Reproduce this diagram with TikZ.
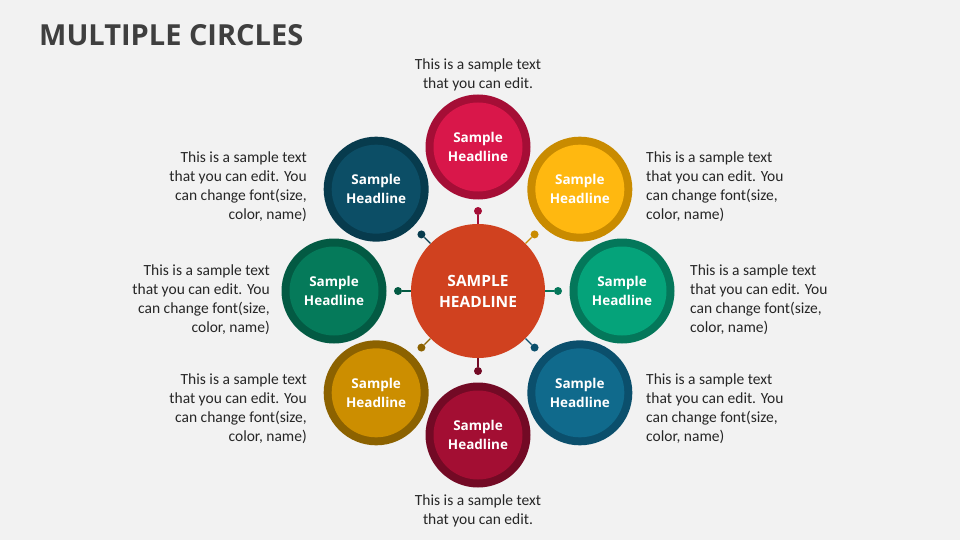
\documentclass[tikz,border=0pt]{standalone}
\usepackage{fontspec}
\setmainfont{Carlito}
\newfontfamily\hfont{Open Sans}
\definecolor{bg}{HTML}{F2F2F2}
\definecolor{ttl}{HTML}{3F3F3F}
\definecolor{txt}{HTML}{262626}
\definecolor{cA}{HTML}{D9174A}\definecolor{rA}{HTML}{A50E36}
\definecolor{cB}{HTML}{FFB810}\definecolor{rB}{HTML}{C98B00}
\definecolor{cC}{HTML}{05A37A}\definecolor{rC}{HTML}{04775A}
\definecolor{cD}{HTML}{106A8C}\definecolor{rD}{HTML}{0B4F6C}
\definecolor{cE}{HTML}{A30E33}\definecolor{rE}{HTML}{730A25}
\definecolor{cF}{HTML}{CC8E00}\definecolor{rF}{HTML}{8C6200}
\definecolor{cG}{HTML}{057A5A}\definecolor{rG}{HTML}{035A43}
\definecolor{cH}{HTML}{0C4E66}\definecolor{rH}{HTML}{073B4D}
\definecolor{cM}{HTML}{D0411F}
\tikzset{
 ring/.style={circle,minimum size=105pt,inner sep=0pt},
 inner/.style={circle,minimum size=89pt,inner sep=0pt,text=white,font=\hfont\bfseries\fontsize{13.5}{18.5}\selectfont,align=center},
 dotn/.style={circle,minimum size=8pt,inner sep=0pt},
 body/.style={text=txt,font=\fontsize{15.5}{19}\selectfont,inner sep=0pt},
}
\begin{document}
\begin{tikzpicture}[x=1pt,y=-1pt]
\fill[bg] (0,0) rectangle (960,540);
\useasboundingbox (0,0) rectangle (960,540);
\node[anchor=west,text=ttl,font=\hfont\bfseries\fontsize{29}{32}\selectfont,inner sep=0pt] (title) at (39,35) {MULTIPLE CIRCLES};
\node[circle,minimum size=134pt,inner sep=0pt,fill=cM,text=white,font=\hfont\bfseries\fontsize{15.5}{21}\selectfont,align=center] (m) at (478,291) {SAMPLE\\HEADLINE};
\foreach \n/\a/\c in {A/90/A,B/45/B,C/0/C,D/-45/D,E/-90/E,F/-135/F,G/180/G,H/135/H}{
  \path (478,291) ++(\a:144 and -144) coordinate (p\n);
  \node[ring,fill=r\c] (r\n) at (p\n) {};
  \node[inner,fill=c\c] (i\n) at (p\n) {Sample\\Headline};
  \path (478,291) ++(\a:80 and -80) coordinate (q\n);
  \node[dotn,fill=r\c] (d\n) at (q\n) {};
  \draw[r\c,line width=1.3pt] (d\n) -- (m);
}
\node[body,align=center,anchor=south] (tA) at (478,91) {This is a sample text\\that you can edit.};
\node[body,align=center,anchor=north] (tE) at (478,495) {This is a sample text\\that you can edit.};
\node[body,align=right,anchor=east] (tH) at (307,187) {This is a sample text\\that you can edit. You\\can change font(size,\\color, name)};
\node[body,align=right,anchor=east] (tG) at (270,300) {This is a sample text\\that you can edit. You\\can change font(size,\\color, name)};
\node[body,align=right,anchor=east] (tF) at (307,409) {This is a sample text\\that you can edit. You\\can change font(size,\\color, name)};
\node[body,align=left,anchor=west] (tB) at (646,187) {This is a sample text\\that you can edit. You\\can change font(size,\\color, name)};
\node[body,align=left,anchor=west] (tC) at (690,300) {This is a sample text\\that you can edit. You\\can change font(size,\\color, name)};
\node[body,align=left,anchor=west] (tD) at (646,409) {This is a sample text\\that you can edit. You\\can change font(size,\\color, name)};
\end{tikzpicture}
\end{document}
